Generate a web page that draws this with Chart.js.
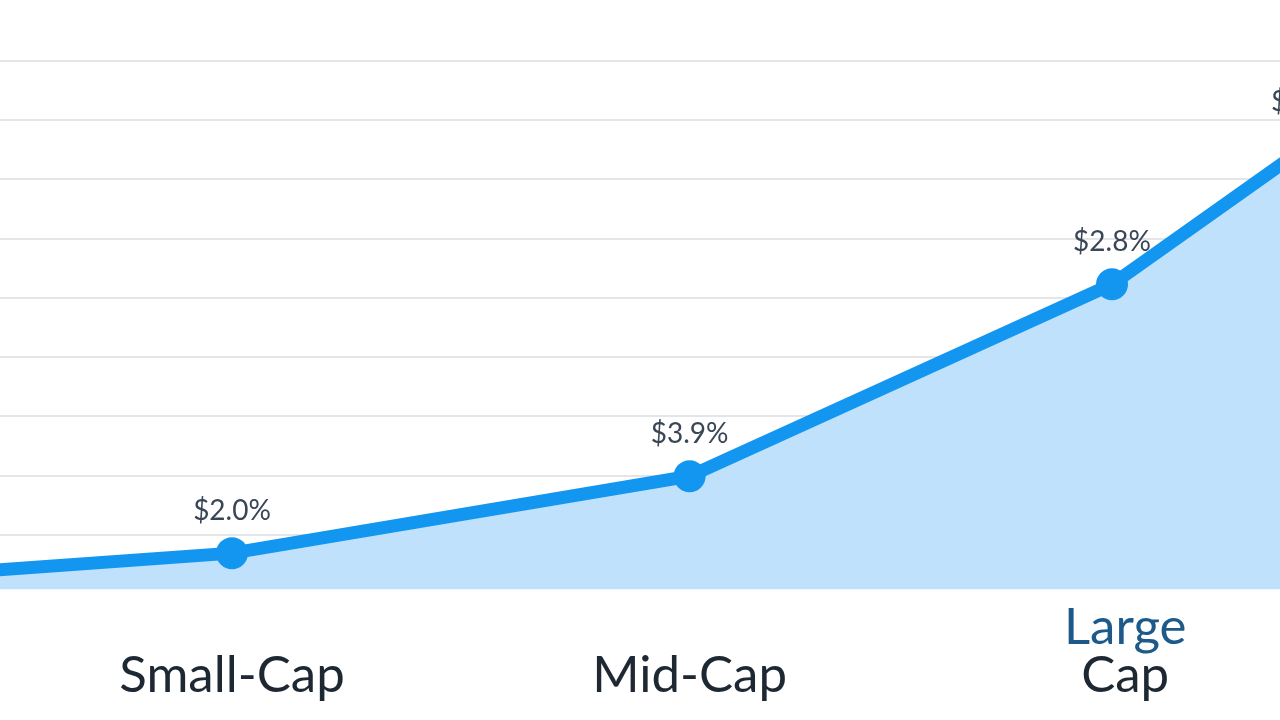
<!DOCTYPE html>
<html lang="en">
<head>
  <meta charset="UTF-8" />
  <title>Cap Size Returns</title>
  <style>
    html, body {
      margin: 0;
      padding: 0;
      background: #ffffff;
      overflow: hidden;
    }
    .wrap {
      width: 1280px;
      height: 720px;
    }
  </style>
  <script src="https://cdn.jsdelivr.net/npm/chart.js"></script>
</head>
<body>

<div class="wrap">
  <canvas id="capChart" width="1280" height="720"></canvas>
</div>

<script>
  // positions along the cap-size axis and values
  const capPositions = [0.4, 1, 2.04, 3, 3.45];
  const capValues = [0.37, 0.69, 1.99, 5.23, 7.6];
  const pointLabels = ["", "$2.0%", "$3.9%", "$2.8%", "$5.1%"];
  const showMarker = [false, true, true, true, false];

  // category labels under the chart, one row per line
  const categoryLabels = [["", "Small-Cap"], ["", "Mid-Cap"], ["Large", "Cap"]];
  const categoryPositions = [1, 2.04, 3.03];

  const points = capPositions.map((x, i) => ({ x: x, y: capValues[i] }));

  const labelPlugin = {
    id: "labelPlugin",
    afterDraw(chart) {
      const ctx = chart.ctx;
      const meta = chart.getDatasetMeta(0);
      const xScale = chart.scales.x;

      ctx.save();
      ctx.textAlign = "center";
      ctx.textBaseline = "middle";

      // value labels above the points
      ctx.font = "28px Lato, sans-serif";
      ctx.fillStyle = "#3a4656";
      meta.data.forEach((pt, i) => {
        if (pointLabels[i]) {
          ctx.fillText(pointLabels[i], pt.x, pt.y - 42);
        }
      });

      // category labels
      ctx.font = "51px Lato, sans-serif";
      categoryLabels.forEach((lines, i) => {
        const x = xScale.getPixelForValue(categoryPositions[i]);
        lines.forEach((line, j) => {
          if (!line) return;
          ctx.fillStyle = (lines.length > 1 && j === 0) ? "#1d5a8a" : "#1e2833";
          ctx.fillText(line, x, 628 + j * 48);
        });
      });
      ctx.restore();
    }
  };

  new Chart(document.getElementById("capChart"), {
    type: "line",
    data: {
      datasets: [{
        data: points,
        borderColor: "#1296f0",
        backgroundColor: "#bfe1fb",
        borderWidth: 13,
        fill: { value: 0.08 },
        tension: 0,
        pointRadius: showMarker.map(s => s ? 16 : 0),
        pointHoverRadius: showMarker.map(s => s ? 16 : 0),
        pointBackgroundColor: "#1296f0",
        pointBorderWidth: 0
      }]
    },
    options: {
      responsive: false,
      animation: false,
      layout: {
        padding: { top: 61, bottom: 126, left: 0, right: 0 }
      },
      plugins: {
        legend: { display: false },
        tooltip: { enabled: false }
      },
      scales: {
        x: {
          type: "linear",
          display: false,
          min: 0.4727,
          max: 3.3818
        },
        y: {
          min: 0,
          max: 9,
          ticks: { display: false, stepSize: 1 },
          border: { display: false },
          grid: {
            drawTicks: false,
            lineWidth: 2,
            color: ctx => ctx.index === 0 ? "rgba(0,0,0,0)" : "#e3e5e8"
          }
        }
      }
    },
    plugins: [labelPlugin]
  });
</script>

</body>
</html>
